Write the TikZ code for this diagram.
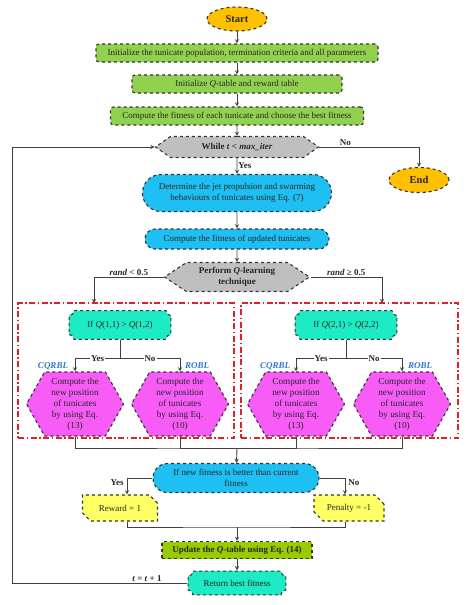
\documentclass[tikz,border=0pt]{standalone}
\usepackage{fontspec}
\setmainfont{Liberation Serif}
\usepackage{xcolor}
\usepackage{tikz}
\usetikzlibrary{shapes.geometric, shapes.misc, shapes.symbols, arrows}
\definecolor{sunorange}{HTML}{FFC000}
\definecolor{leafgreen}{HTML}{92D050}
\definecolor{olivegreen}{HTML}{99CC00}
\definecolor{hexgray}{HTML}{BFBFBF}
\definecolor{skyblue}{HTML}{1EBFF2}
\definecolor{aqua}{HTML}{1DEBC4}
\definecolor{pinkhex}{HTML}{F75CF7}
\definecolor{lemon}{HTML}{FFFF66}
\definecolor{framered}{HTML}{E0202A}
\definecolor{tagblue}{HTML}{2E75D6}
\definecolor{edgegray}{HTML}{333333}
\definecolor{linegray}{HTML}{404040}
\tikzstyle{startstop} = [ellipse, minimum width=60pt, minimum height=24pt, draw=edgegray, dashed,
                         fill=sunorange, line width=1.1pt, font=\fontsize{10.5}{12}\selectfont\bfseries]
\tikzstyle{process} = [rectangle, rounded corners=3pt, minimum height=18pt, text centered, draw=edgegray,
                       dashed, fill=leafgreen, line width=1.1pt, inner sep=0pt]
\tikzstyle{decision} = [signal, signal to=west and east, draw=edgegray, dashed, fill=hexgray,
                        line width=1.1pt, inner sep=0pt, align=center, font=\fontsize{9}{11}\selectfont\bfseries]
\tikzstyle{pill} = [rounded rectangle, draw=edgegray, dashed, fill=skyblue, line width=1.1pt,
                    inner sep=0pt, align=center]
\tikzstyle{qcheck} = [rectangle, inner sep=0pt, align=center,
  path picture={\path[fill=aqua, draw=edgegray, dashed, line width=1.1pt]
    ([shift={(5.6pt,-0.6pt)}]path picture bounding box.north west)
    -- ([shift={(-5.6pt,-0.6pt)}]path picture bounding box.north east) arc[start angle=180, end angle=270, radius=5pt]
    -- ([shift={(-0.6pt,5.6pt)}]path picture bounding box.south east) arc[start angle=90, end angle=180, radius=5pt]
    -- ([shift={(5.6pt,0.6pt)}]path picture bounding box.south west) arc[start angle=0, end angle=90, radius=5pt]
    -- ([shift={(0.6pt,-5.6pt)}]path picture bounding box.north west) arc[start angle=270, end angle=360, radius=5pt]
    -- cycle;}]
\tikzstyle{hexbox} = [signal, signal to=west and east, signal pointer angle=121, minimum width=97pt,
                      minimum height=64pt, inner sep=0pt, draw=edgegray, dashed, fill=pinkhex, line width=1.1pt,
                      align=center, font=\fontsize{9.2}{11}\selectfont]
\tikzstyle{score} = [chamfered rectangle, chamfered rectangle corners={north east, south west},
                     chamfered rectangle sep=5pt, minimum height=26pt, inner sep=0pt, draw=edgegray, dashed,
                     fill=lemon, line width=1.1pt]
\tikzstyle{redframe} = [rectangle, draw=framered, dash pattern=on 6pt off 2.5pt on 1.5pt off 2.5pt,
                        line width=1.1pt, inner sep=0pt, minimum height=135pt]
\tikzstyle{lbl} = [font=\fontsize{9}{11}\selectfont\bfseries, inner sep=1pt]
\tikzstyle{tag} = [font=\fontsize{9}{11}\selectfont\bfseries\itshape, text=tagblue, inner sep=0pt]
\tikzstyle{arrow} = [line width=0.9pt, draw=linegray, ->, >=stealth]
\tikzstyle{link} = [line width=0.9pt, draw=linegray]

\begin{document}
\begin{tikzpicture}[x=1pt, y=1pt, every node/.style={font=\fontsize{9}{11}\selectfont, text=black!85}]
\useasboundingbox (0,0) rectangle (474,-605);

% dash-dot frames behind the two Q-learning branches
\node (frameL) [redframe, minimum width=216pt] at (126,-370.5) {};
\node (frameR) [redframe, minimum width=217pt] at (349.5,-370.5) {};

\node (start) [startstop] at (237,-19) {Start};
\node (init) [process, minimum width=282pt, below of=start, node distance=34pt]
  {Initialize the tunicate population, termination criteria and all parameters};
\node (qtable) [process, minimum width=210pt, below of=init, node distance=31pt]
  {Initialize \textit{Q}-table and reward table};
\node (fitness) [process, minimum width=253pt, below of=qtable, node distance=32pt]
  {Compute the fitness of each tunicate and choose the best fitness};
\node (while) [decision, signal pointer angle=70, minimum width=163pt, minimum height=21pt,
  below of=fitness, node distance=31pt] {While \textit{t} < \textit{max\_iter}};
\node (end) [startstop, minimum height=25pt] at (419,-180) {End};
\node (jet) [pill, minimum width=189pt, minimum height=37pt, below of=while, node distance=46pt]
  {Determine the jet propulsion and swarming\\behaviours of tunicates using Eq. (7)};
\node (updfit) [pill, minimum width=184pt, minimum height=20pt, below of=jet, node distance=46pt]
  {Compute the fitness of updated tunicates};
\node (perform) [decision, signal pointer angle=67, minimum width=145pt, minimum height=29pt,
  below of=updfit, node distance=38pt] {Perform \textit{Q}-learning\\technique};

\node (qleft) [qcheck, minimum width=103pt, minimum height=30pt] at (120,-325) {If \textit{Q}(1,1) > \textit{Q}(1,2)};
\node (qright) [qcheck, minimum width=103pt, minimum height=30pt] at (346,-325) {If \textit{Q}(2,1) > \textit{Q}(2,2)};

\node (hexA) [hexbox] at (75,-404) {Compute the\\new position\\of tunicates\\by using Eq.\\(13)};
\node (hexB) [hexbox] at (180,-404) {Compute the\\new position\\of tunicates\\by using Eq.\\(10)};
\node (hexC) [hexbox] at (296,-404) {Compute the\\new position\\of tunicates\\by using Eq.\\(13)};
\node (hexD) [hexbox] at (402,-404) {Compute the\\new position\\of tunicates\\by using Eq.\\(10)};
\node (tagA) [tag] at (53,-366) {CQRBL};
\node (tagB) [tag] at (197,-366) {ROBL};
\node (tagC) [tag] at (275,-366) {CQRBL};
\node (tagD) [tag] at (420,-366) {ROBL};

\node (newfit) [pill, minimum width=166pt, minimum height=29pt] at (236,-478)
  {If new fitness is better than current\\fitness};
\node (reward) [score, minimum width=75pt] at (120,-508) {Reward = 1};
\node (penalty) [score, minimum width=70pt] at (349,-508) {Penalty = -1};
\node (update) [process, rounded corners=0pt, fill=olivegreen, minimum width=150pt, minimum height=17pt,
  font=\fontsize{9}{11}\selectfont\bfseries] at (237,-550) {Update the \textit{Q}-table using Eq. (14)};
\node (best) [qcheck, minimum width=99pt, minimum height=25pt, below of=update, node distance=33pt]
  {Return best fitness};

\coordinate (inL) at (94,-303);
\coordinate (inR) at (382,-303);
\coordinate (mergeA) at (237,-448);
\coordinate (mergeB) at (237,-527);
\coordinate (back) at (12,-583);

\draw [arrow] (start) -- (init);
\draw [arrow] (init) -- (qtable);
\draw [arrow] (qtable) -- (fitness);
\draw [arrow] (fitness) -- (while);
\draw [arrow] (while.east) -| node[lbl, pos=0.13, above] {No} (end.north);
\draw [arrow] (while) -- node[lbl, right] {Yes} (jet);
\draw [arrow] (jet) -- (updfit);
\draw [arrow] (updfit) -- (perform);
\draw [arrow] (perform.west) -| node[lbl, pos=0.25, above] {\textit{rand} < 0.5} (inL);
\draw [arrow] (perform.east) -| node[lbl, pos=0.25, above] {\textit{rand} ≥ 0.5} (inR);

\draw [arrow] (qleft.south) -- ++(0,-18) -| node[lbl, pos=0.25, fill=white] {Yes} (hexA.north);
\draw [arrow] (qleft.south) -- ++(0,-18) -| node[lbl, pos=0.25, fill=white] {No} (hexB.north);
\draw [arrow] (qright.south) -- ++(0,-18) -| node[lbl, pos=0.25, fill=white] {Yes} (hexC.north);
\draw [arrow] (qright.south) -- ++(0,-18) -| node[lbl, pos=0.25, fill=white] {No} (hexD.north);

\draw [link] (hexA.south) |- (mergeA) -| (hexD.south);
\draw [link] (hexB.south) |- (mergeA);
\draw [link] (hexC.south) |- (mergeA);
\draw [arrow] (mergeA) -- (newfit);

\draw [arrow] (newfit.west) -| node[lbl, pos=0.5, anchor=north east, xshift=-2pt] {Yes} ([xshift=7pt]reward.north);
\draw [arrow] (newfit.east) -| node[lbl, pos=0.5, anchor=north west, xshift=2pt] {No} ([xshift=-4pt]penalty.north);
\draw [link] ([xshift=7pt]reward.south) |- (mergeB) -| ([xshift=-4pt]penalty.south);
\draw [arrow] (mergeB) -- (update);
\draw [arrow] (update) -- (best);
\draw [arrow] (best.west) -- node[lbl, pos=0.23, above] {\textit{t} = \textit{t} + 1} (back) |- (while.west);

\end{tikzpicture}
\end{document}
